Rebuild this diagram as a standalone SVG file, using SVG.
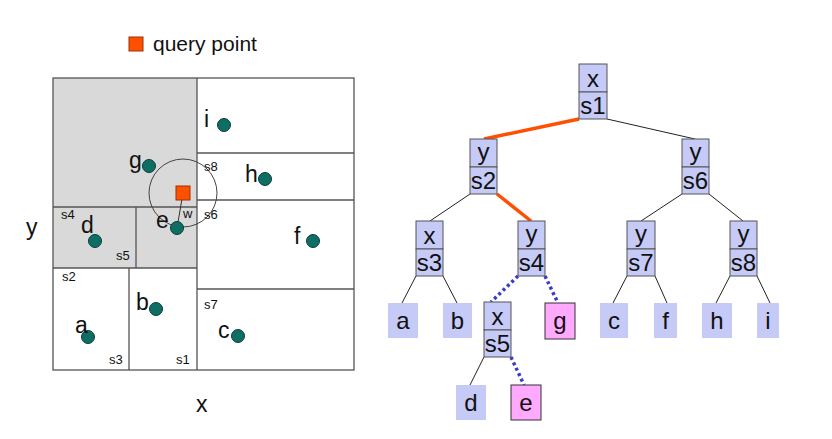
<svg xmlns="http://www.w3.org/2000/svg" width="832" height="439" viewBox="0 0 832 439">
<style>
text{font-family:"Liberation Sans",Arial,sans-serif;fill:#111}
.L{font-size:23px}.s{font-size:13px}.n{font-size:24px;text-anchor:middle}
.ln{stroke:#555;stroke-width:1.3;fill:none}
.pt{fill:#0f6e64;stroke:#0a3d38;stroke-width:1}
.nb{fill:#c6caf7;stroke:#555;stroke-width:1}
.lf{fill:#c6caf7}
.pk{fill:#ffaaff;stroke:#333;stroke-width:1}
.e{stroke:#222;stroke-width:1}
.o{stroke:#ff4f00;stroke-width:3.5}
.d{stroke:#3a3acc;stroke-width:3.5;stroke-dasharray:3 3}
</style>
<g id="legend"><rect x="129" y="37" width="14" height="14" fill="#ff5000" stroke="#a03000"/><text x="153" y="51" font-size="21">query point</text></g>
<g id="plane">
<rect x="53" y="78" width="144" height="190" fill="#d9d9d9"/>
<rect x="53" y="78" width="301" height="292" class="ln"/>
<path class="ln" d="M197 78V370M53 268H197M53 207H197M136 207V268M129 268V370M197 153H354M197 200H354M197 289H354"/>
<circle cx="183" cy="193" r="34" fill="none" stroke="#444" stroke-width="1"/>
<line x1="183" y1="193" x2="177" y2="228" stroke="#333" stroke-width="1"/>
<g class="pt"><circle cx="224" cy="125" r="6.5"/><circle cx="149" cy="166" r="6.5"/><circle cx="265" cy="179" r="6.5"/><circle cx="177" cy="228" r="6.5"/><circle cx="95" cy="241" r="6.5"/><circle cx="313" cy="241" r="6.5"/><circle cx="156" cy="309" r="6.5"/><circle cx="88" cy="337" r="6.5"/><circle cx="238" cy="336" r="6.5"/></g>
<rect x="176" y="186" width="14" height="14" fill="#ff5000" stroke="#a03000"/>
<g class="L"><text x="204" y="127">i</text><text x="129" y="168">g</text><text x="245" y="182">h</text><text x="156" y="228">e</text><text x="81" y="233">d</text><text x="294" y="244">f</text><text x="136" y="310">b</text><text x="75" y="333">a</text><text x="218" y="338">c</text><text x="26" y="235">y</text><text x="196" y="412">x</text></g>
<g class="s"><text x="204" y="171">s8</text><text x="204" y="219">s6</text><text x="183" y="218">w</text><text x="61" y="219">s4</text><text x="116" y="260">s5</text><text x="62" y="281">s2</text><text x="109" y="364">s3</text><text x="176" y="364">s1</text><text x="204" y="309">s7</text></g>
</g>
<g id="connectors">
<line class="o" x1="579" y1="119" x2="484" y2="139"/>
<line class="e" x1="607" y1="119" x2="695" y2="139"/>
<line class="e" x1="470" y1="194" x2="430" y2="221"/>
<line class="o" x1="497" y1="194" x2="531" y2="221"/>
<line class="e" x1="682" y1="194" x2="641" y2="221"/>
<line class="e" x1="709" y1="194" x2="743" y2="221"/>
<line class="e" x1="416" y1="276" x2="402" y2="303"/>
<line class="e" x1="443" y1="276" x2="457" y2="303"/>
<line class="d" x1="518" y1="276" x2="491" y2="302"/>
<line class="d" x1="545" y1="276" x2="558" y2="303"/>
<line class="e" x1="627" y1="276" x2="613" y2="303"/>
<line class="e" x1="655" y1="276" x2="667" y2="303"/>
<line class="e" x1="730" y1="276" x2="716" y2="303"/>
<line class="e" x1="757" y1="276" x2="770" y2="303"/>
<line class="e" x1="484" y1="357" x2="470" y2="385"/>
<line class="d" x1="511" y1="357" x2="524" y2="385"/>
</g>
<g id="s1"><rect class="nb" x="579" y="64" width="28" height="28"/><rect class="nb" x="579" y="92" width="28" height="27"/><text class="n" x="593" y="87">x</text><text class="n" x="593" y="114">s1</text></g>
<g id="s2"><rect class="nb" x="470" y="139" width="27" height="28"/><rect class="nb" x="470" y="167" width="27" height="27"/><text class="n" x="483.5" y="160">y</text><text class="n" x="483.5" y="189">s2</text></g>
<g id="s6"><rect class="nb" x="682" y="139" width="27" height="28"/><rect class="nb" x="682" y="167" width="27" height="27"/><text class="n" x="695.5" y="160">y</text><text class="n" x="695.5" y="189">s6</text></g>
<g id="s3"><rect class="nb" x="416" y="221" width="27" height="28"/><rect class="nb" x="416" y="249" width="27" height="27"/><text class="n" x="429.5" y="244">x</text><text class="n" x="429.5" y="271">s3</text></g>
<g id="s4"><rect class="nb" x="518" y="221" width="27" height="28"/><rect class="nb" x="518" y="249" width="27" height="27"/><text class="n" x="531.5" y="242">y</text><text class="n" x="531.5" y="271">s4</text></g>
<g id="s7"><rect class="nb" x="627" y="221" width="28" height="28"/><rect class="nb" x="627" y="249" width="28" height="27"/><text class="n" x="641" y="242">y</text><text class="n" x="641" y="271">s7</text></g>
<g id="s8"><rect class="nb" x="730" y="221" width="27" height="28"/><rect class="nb" x="730" y="249" width="27" height="27"/><text class="n" x="743.5" y="242">y</text><text class="n" x="743.5" y="271">s8</text></g>
<g id="s5"><rect class="nb" x="484" y="302" width="27" height="28"/><rect class="nb" x="484" y="330" width="27" height="27"/><text class="n" x="497.5" y="325">x</text><text class="n" x="497.5" y="352">s5</text></g>
<g id="a"><rect class="lf" x="388" y="303" width="30" height="35"/><text class="n" x="403" y="329">a</text></g>
<g id="b"><rect class="lf" x="443" y="303" width="29" height="35"/><text class="n" x="457.5" y="329">b</text></g>
<g id="g"><rect class="pk" x="545" y="303" width="30" height="36"/><text class="n" x="560" y="329">g</text></g>
<g id="c"><rect class="lf" x="600" y="303" width="28" height="35"/><text class="n" x="614" y="329">c</text></g>
<g id="f"><rect class="lf" x="654" y="303" width="23" height="35"/><text class="n" x="665.5" y="329">f</text></g>
<g id="h"><rect class="lf" x="702" y="303" width="30" height="35"/><text class="n" x="717" y="329">h</text></g>
<g id="i"><rect class="lf" x="757" y="303" width="22" height="35"/><text class="n" x="768" y="329">i</text></g>
<g id="d"><rect class="lf" x="456" y="385" width="30" height="35"/><text class="n" x="471" y="411">d</text></g>
<g id="e"><rect class="pk" x="511" y="385" width="30" height="35"/><text class="n" x="526" y="411">e</text></g>
</svg>
